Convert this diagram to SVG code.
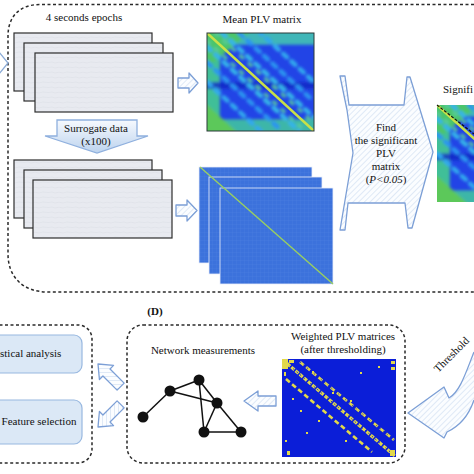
<svg xmlns="http://www.w3.org/2000/svg" width="474" height="474" viewBox="0 0 474 474">
<style>
text{font-family:"Liberation Serif","Times New Roman",serif;font-size:11px;fill:#111}
.c{text-anchor:middle}
.dash{fill:none;stroke:#2a2a2a;stroke-width:1.5;stroke-dasharray:3 2.5}
.ep{fill:url(#eeg);stroke:#2e2e2e;stroke-width:1.2}
.oa{fill:url(#hatch);stroke:#7c9fd6;stroke-width:1.3;stroke-linejoin:round}
.lb{fill:#dbe8f6;stroke:#98b8e0;stroke-width:1.2}
.edge{stroke:#111;stroke-width:1.5}
.nd{fill:#111}
.sm{fill:url(#sgrid);stroke:#e8eefa;stroke-width:0.8}
</style>
<defs>
<pattern id="hatch" width="4" height="4" patternUnits="userSpaceOnUse" patternTransform="rotate(45)"><rect width="4" height="4" fill="#fbfdff"/><line x1="0" y1="0" x2="0" y2="4" stroke="#cddcf1" stroke-width="1.2"/></pattern>
<pattern id="eeg" width="24" height="5" patternUnits="userSpaceOnUse"><rect width="24" height="5" fill="#e8eaf0"/><path d="M0,2.5 L4,2 L7,3 L11,2.2 L15,3 L19,2 L24,2.5" fill="none" stroke="#dcdfe6" stroke-width=".6"/></pattern>
<pattern id="sgrid" width="4" height="4" patternUnits="userSpaceOnUse"><rect width="4" height="4" fill="#3c72dc"/><path d="M0,0H4M0,0V4" stroke="#5a8be6" stroke-width=".5" opacity=".6"/></pattern>
<linearGradient id="sg" x1="0" y1="0" x2="0" y2="1"><stop offset="0" stop-color="#f6f9fe"/><stop offset="1" stop-color="#bcd3ee"/></linearGradient>
<filter id="soft" x="0" y="0" width="1" height="1"><feGaussianBlur stdDeviation="1.6"/></filter>
<symbol id="jet" viewBox="0 0 100 100" preserveAspectRatio="none">
<rect width="100" height="100" fill="#2244e6"/>
<g filter="url(#soft)">
<rect x="-5" y="-5" width="110" height="17" fill="#3fb6b8"/>
<rect x="-5" y="-5" width="17" height="110" fill="#3fbf98"/>
<polygon points="-5,-5 45,-5 -5,40" fill="#4cc56a"/>
<rect x="-5" y="88" width="110" height="17" fill="#3eb6a8"/>
<polygon points="-5,68 -5,105 32,105" fill="#5cc85a"/>
<rect x="-5" y="50" width="110" height="7" fill="#1428c4" opacity=".8"/>
<g fill="none" stroke-width="4.5" stroke-linecap="round" stroke-dasharray="5 6">
<line x1="14" y1="0" x2="100" y2="86" stroke="#36b4e8"/>
<line x1="0" y1="14" x2="86" y2="100" stroke="#36b4e8"/>
<line x1="30" y1="0" x2="100" y2="70" stroke="#2c94f0"/>
<line x1="0" y1="30" x2="70" y2="100" stroke="#2c94f0"/>
<line x1="50" y1="0" x2="100" y2="50" stroke="#30a8ee" stroke-dashoffset="3"/>
<line x1="0" y1="50" x2="50" y2="100" stroke="#30a8ee"/>
</g>
<g fill="none" stroke="#58cc9c" stroke-width="3" stroke-linecap="round" stroke-dasharray="3 8">
<line x1="8" y1="0" x2="100" y2="92"/>
<line x1="0" y1="8" x2="92" y2="100"/>
</g>
</g>
<line x1="0" y1="0" x2="100" y2="100" stroke="#c8e048" stroke-width="2.5"/>
</symbol>
<clipPath id="wclip"><rect x="282" y="359" width="114" height="98"/></clipPath>
</defs>

<g id="frame-top"><path class="dash" d="M474,4.5 H40 C20,4.5 8,16 8,36 V254 C8,276 22,292 48,292 H474"/></g>

<g id="connectors">
<path d="M-10,58 H-1 V52 L8,63 L-1,74 V68 H-10" fill="none" stroke="#8aaad6" stroke-width="1.3"/>
<path class="oa" d="M178,78 H189 V73 L198,83 L189,93 V88 H178 Z"/>
<path class="oa" d="M176,205 H187 V200 L197,210.5 L187,221 V216 H176 Z"/>
<path class="oa" d="M276,396 H258 V391 L244,401 L258,411 V406 H276 Z"/>
<path class="oa" transform="translate(98,364) rotate(45)" d="M0,0 L12,-10 L12,-5 L32,-5 L32,5 L12,5 L12,10 Z"/>
<path class="oa" transform="translate(98,427) rotate(-45)" d="M0,0 L12,-10 L12,-5 L32,-5 L32,5 L12,5 L12,10 Z"/>
</g>

<g id="epochs">
<text class="c" x="84" y="21">4 seconds epochs</text>
<rect class="ep" x="14" y="33" width="138" height="58"/>
<rect class="ep" x="24" y="43" width="139" height="58"/>
<rect class="ep" x="35" y="53" width="138" height="59"/>
</g>

<g id="surrogate-arrow">
<path d="M57,120 H137 V136 H148 L97,153 L45,136 H57 Z" fill="url(#sg)" stroke="#8fb0de" stroke-width="1.3"/>
<text class="c" x="96" y="132">Surrogate data</text>
<text class="c" x="96" y="145">(x100)</text>
</g>

<g id="surrogate-epochs">
<rect class="ep" x="14" y="160" width="138" height="58"/>
<rect class="ep" x="24" y="170" width="138" height="58"/>
<rect class="ep" x="33" y="180" width="139" height="58"/>
</g>

<g id="mean-plv">
<text class="c" x="262" y="23">Mean PLV matrix</text>
<use href="#jet" x="207" y="33" width="107" height="98"/>
<rect x="207" y="33" width="107" height="98" fill="none" stroke="#2a3a3a" stroke-width="1"/>
</g>

<g id="surrogate-plv">
<rect class="sm" x="199" y="167" width="113" height="96"/>
<rect class="sm" x="209" y="177" width="113" height="97"/>
<rect class="sm" x="220" y="188" width="113" height="96"/>
<line x1="200" y1="167" x2="333" y2="284" stroke="#9ad060" stroke-width="1.4"/>
</g>

<g id="find-significant">
<path class="oa" stroke-width="1.5" d="M340,76 H345 L349,105 H404 L407,77 H410 L433,152 L412,228 H408 L405,203 H348 L345,230 H340 L353,153 L347,110 Z"/>
<text class="c" x="386" y="131">Find</text>
<text class="c" x="386" y="144">the significant</text>
<text class="c" x="386" y="157">PLV</text>
<text class="c" x="386" y="170">matrix</text>
<text class="c" x="386" y="183">(<tspan font-style="italic">P&lt;0.05</tspan>)</text>
</g>

<g id="significant-plv">
<text x="443" y="93">Signifi</text>
<use href="#jet" x="437" y="105" width="107" height="97"/>
<line x1="437" y1="105" x2="474" y2="134" stroke="#111" stroke-width="1.2" stroke-dasharray="3 1.5"/>
</g>

<g id="label-D"><text class="c" x="155" y="315" font-weight="bold" font-size="12">(D)</text></g>

<g id="outputs">
<rect class="dash" x="-20" y="325" width="112" height="138" rx="14"/>
<g id="statistical-analysis">
<rect class="lb" x="-20" y="335" width="102" height="38" rx="8"/>
<text x="0" y="357">stical analysis</text>
</g>
<g id="feature-selection">
<rect class="lb" x="-20" y="400" width="102" height="44" rx="8"/>
<text class="c" x="39" y="425">Feature selection</text>
</g>
</g>

<g id="network">
<rect class="dash" x="127" y="325" width="278" height="138" rx="16"/>
<text class="c" x="203" y="354">Network measurements</text>
<g>
<line class="edge" x1="143" y1="417" x2="170" y2="391"/>
<line class="edge" x1="170" y1="391" x2="199" y2="380"/>
<line class="edge" x1="170" y1="391" x2="217" y2="403"/>
<line class="edge" x1="199" y1="380" x2="217" y2="403"/>
<line class="edge" x1="199" y1="380" x2="204" y2="432"/>
<line class="edge" x1="217" y1="403" x2="204" y2="432"/>
<line class="edge" x1="217" y1="403" x2="241" y2="432"/>
<line class="edge" x1="204" y1="432" x2="241" y2="432"/>
<circle class="nd" cx="143" cy="417" r="5.5"/>
<circle class="nd" cx="170" cy="391" r="5.5"/>
<circle class="nd" cx="199" cy="380" r="5.5"/>
<circle class="nd" cx="217" cy="403" r="5.5"/>
<circle class="nd" cx="204" cy="432" r="5.5"/>
<circle class="nd" cx="241" cy="432" r="5.5"/>
</g>
</g>

<g id="weighted-plv">
<text class="c" x="343" y="340">Weighted PLV matrices</text>
<text class="c" x="343" y="353">(after thresholding)</text>
<rect x="282" y="359" width="114" height="98" fill="#0b1ed8"/>
<g clip-path="url(#wclip)" fill="none">
<line x1="283" y1="360" x2="395" y2="456" stroke="#e2d84a" stroke-width="3.2" stroke-dasharray="4 1.5"/>
<line x1="283" y1="360" x2="395" y2="456" stroke="#0b1ed8" stroke-width="1" stroke-dasharray="1.5 3"/>
<line x1="300" y1="362" x2="394" y2="440" stroke="#e2d84a" stroke-width="2.6" stroke-dasharray="5 3"/>
<line x1="286" y1="379" x2="372" y2="452" stroke="#e2d84a" stroke-width="2.6" stroke-dasharray="5 3"/>
<line x1="300" y1="362" x2="394" y2="440" stroke="#0b1ed8" stroke-width=".8" stroke-dasharray="1.5 3"/>
<g fill="#e2d84a" stroke="none">
<rect x="282" y="359" width="6" height="10"/>
<rect x="289" y="360" width="5" height="3"/>
<rect x="284" y="372" width="2" height="4"/>
<rect x="292" y="398" width="2" height="2"/>
<rect x="300" y="410" width="2" height="2"/>
<rect x="312" y="371" width="2" height="2"/>
<rect x="360" y="372" width="2" height="2"/>
<rect x="378" y="366" width="2" height="2"/>
<rect x="391" y="361" width="4" height="3"/>
<rect x="391" y="367" width="4" height="3"/>
<rect x="285" y="440" width="2" height="2"/>
<rect x="287" y="451" width="3" height="4"/>
<rect x="345" y="440" width="2" height="2"/>
<rect x="318" y="420" width="2" height="2"/>
<rect x="332" y="392" width="2" height="2"/>
<rect x="350" y="400" width="2" height="2"/>
<rect x="306" y="432" width="2" height="2"/>
<rect x="390" y="450" width="5" height="6"/>
</g>
</g>
</g>

<g id="threshold">
<path class="oa" stroke-width="1.4" d="M474,352 C466,372 460,392 449,398 L444,387 L408,413 L444,438 L447,432 C462,425 470,412 474,400"/>
<text class="c" x="452" y="358" font-size="10.5" transform="rotate(-45 452 355)">Threshold</text>
</g>
</svg>
